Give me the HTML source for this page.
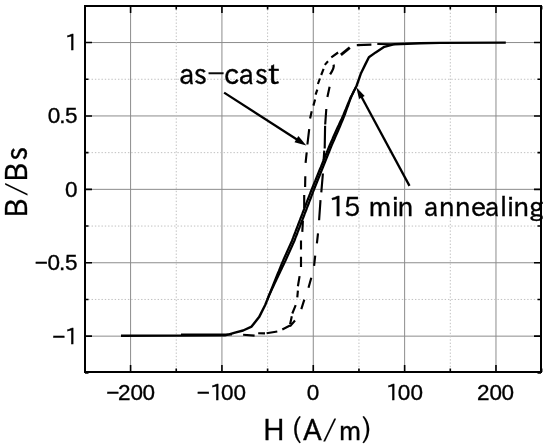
<!DOCTYPE html><html><head><meta charset="utf-8"><style>html,body{margin:0;padding:0;background:#fff;width:550px;height:448px;overflow:hidden}svg{display:block}text{fill:#000;stroke:#000;stroke-width:0.35px}</style></head><body>
<svg width="550" height="448" viewBox="0 0 550 448">
<line x1="130.58" y1="6" x2="130.58" y2="372" stroke="#8c8c8c" stroke-width="1"/><line x1="221.93" y1="6" x2="221.93" y2="372" stroke="#8c8c8c" stroke-width="1"/><line x1="313.28" y1="6" x2="313.28" y2="372" stroke="#8c8c8c" stroke-width="1"/><line x1="404.63" y1="6" x2="404.63" y2="372" stroke="#8c8c8c" stroke-width="1"/><line x1="495.98" y1="6" x2="495.98" y2="372" stroke="#8c8c8c" stroke-width="1"/><line x1="85" y1="336.15" x2="541" y2="336.15" stroke="#8c8c8c" stroke-width="1"/><line x1="85" y1="262.75" x2="541" y2="262.75" stroke="#8c8c8c" stroke-width="1"/><line x1="85" y1="189.35" x2="541" y2="189.35" stroke="#8c8c8c" stroke-width="1"/><line x1="85" y1="115.95" x2="541" y2="115.95" stroke="#8c8c8c" stroke-width="1"/><line x1="85" y1="42.55" x2="541" y2="42.55" stroke="#8c8c8c" stroke-width="1"/><line x1="176.25" y1="6" x2="176.25" y2="372" stroke="#c0c0c0" stroke-width="1" stroke-dasharray="1.4 1.9"/><line x1="267.60" y1="6" x2="267.60" y2="372" stroke="#c0c0c0" stroke-width="1" stroke-dasharray="1.4 1.9"/><line x1="358.95" y1="6" x2="358.95" y2="372" stroke="#c0c0c0" stroke-width="1" stroke-dasharray="1.4 1.9"/><line x1="450.30" y1="6" x2="450.30" y2="372" stroke="#c0c0c0" stroke-width="1" stroke-dasharray="1.4 1.9"/><line x1="85" y1="299.45" x2="541" y2="299.45" stroke="#c0c0c0" stroke-width="1" stroke-dasharray="1.4 1.9"/><line x1="85" y1="226.05" x2="541" y2="226.05" stroke="#c0c0c0" stroke-width="1" stroke-dasharray="1.4 1.9"/><line x1="85" y1="152.65" x2="541" y2="152.65" stroke="#c0c0c0" stroke-width="1" stroke-dasharray="1.4 1.9"/><line x1="85" y1="79.25" x2="541" y2="79.25" stroke="#c0c0c0" stroke-width="1" stroke-dasharray="1.4 1.9"/>
<path d="M84.90 372v-3.5M84.90 6v3.5M130.58 372v-7M130.58 6v7M176.25 372v-3.5M176.25 6v3.5M221.93 372v-7M221.93 6v7M267.60 372v-3.5M267.60 6v3.5M313.28 372v-7M313.28 6v7M358.95 372v-3.5M358.95 6v3.5M404.63 372v-7M404.63 6v7M450.30 372v-3.5M450.30 6v3.5M495.98 372v-7M495.98 6v7M541.65 372v-3.5M541.65 6v3.5M85 372.85h3.5M541 372.85h-3.5M85 336.15h7M541 336.15h-7M85 299.45h3.5M541 299.45h-3.5M85 262.75h7M541 262.75h-7M85 226.05h3.5M541 226.05h-3.5M85 189.35h7M541 189.35h-7M85 152.65h3.5M541 152.65h-3.5M85 115.95h7M541 115.95h-7M85 79.25h3.5M541 79.25h-3.5M85 42.55h7M541 42.55h-7M85 5.85h3.5M541 5.85h-3.5" stroke="#000" stroke-width="1.6" fill="none"/>
<rect x="85" y="6" width="456" height="366" fill="none" stroke="#000" stroke-width="2"/>
<path d="M121.0 335.7 L180.0 335.6 L225.0 335.3 L229.0 334.4 L235.0 332.6 L243.1 330.5 L251.6 326.6 L259.1 317.1 L265.2 305.0 L267.2 300.0" stroke="#000" stroke-width="2.4" fill="none" stroke-linejoin="round"/>
<path d="M356.5 86.0 L356.7 85.5 L361.0 73.2 L365.2 64.6 L368.9 57.3 L375.7 52.4 L384.3 46.8 L394.5 44.2 L420.0 43.3 L440.0 42.9 L505.8 42.6" stroke="#000" stroke-width="2.4" fill="none" stroke-linejoin="round"/>
<path d="M356.5 86.0 L356.0 87.0 L355.0 89.0 L353.9 91.0 L352.9 93.0 L351.9 95.0 L350.8 97.0 L350.0 99.0 L349.2 101.0 L348.3 103.0 L347.5 105.0 L346.7 107.0 L345.9 109.0 L345.0 111.0 L344.2 113.0 L343.4 115.0 L342.5 117.0 L341.6 119.0 L340.6 121.0 L339.7 123.0 L338.8 125.0 L337.8 127.0 L336.9 129.0 L336.0 131.0 L335.1 133.0 L334.2 135.0 L333.3 137.0 L332.5 139.0 L331.6 141.0 L330.7 143.0 L329.8 145.0 L329.0 147.0 L328.2 149.0 L327.4 151.0 L326.6 153.0 L325.7 155.0 L324.9 157.0 L324.1 159.0 L323.3 161.0 L322.5 163.0 L321.7 165.0 L320.9 167.0 L320.0 169.0 L319.2 171.0 L318.4 173.0 L317.6 175.0 L316.8 177.0 L316.0 179.0 L315.2 181.0 L314.3 183.0 L313.5 185.0 L312.7 187.0 L311.9 189.0 L311.1 191.0 L310.3 193.0 L309.6 195.0 L308.8 197.0 L308.0 199.0 L307.2 201.0 L306.5 203.0 L305.7 205.0 L304.9 207.0 L304.2 209.0 L303.4 211.0 L302.6 213.0 L301.9 215.0 L301.1 217.0 L300.3 219.0 L299.6 221.0 L298.8 223.0 L298.0 225.0 L297.3 227.0 L296.5 229.0 L295.7 231.0 L295.0 233.0 L294.2 235.0 L293.4 237.0 L292.7 239.0 L291.9 241.0 L291.0 243.0 L290.1 245.0 L289.2 247.0 L288.3 249.0 L287.4 251.0 L286.5 253.0 L285.6 255.0 L284.7 257.0 L283.8 259.0 L283.0 261.0 L282.1 263.0 L281.3 265.0 L280.5 267.0 L279.7 269.0 L278.9 271.0 L278.0 273.0 L277.2 275.0 L276.4 277.0 L275.6 279.0 L274.8 281.0 L274.0 283.0 L273.2 285.0 L272.4 287.0 L271.6 289.0 L270.8 291.0 L270.0 293.0 L269.2 295.0 L268.4 297.0 L267.6 299.0 L267.2 300.0" stroke="#000" stroke-width="2.2" fill="none" stroke-linejoin="round"/>
<path d="M356.5 86.0 L356.0 87.0 L355.0 89.0 L354.0 91.0 L353.1 93.0 L352.1 95.0 L351.2 97.0 L350.4 99.0 L349.7 101.0 L349.0 103.0 L348.3 105.0 L347.5 107.0 L346.8 109.0 L346.1 111.0 L345.4 113.0 L344.6 115.0 L343.8 117.0 L343.0 119.0 L342.2 121.0 L341.3 123.0 L340.5 125.0 L339.7 127.0 L338.8 129.0 L338.0 131.0 L337.1 133.0 L336.2 135.0 L335.3 137.0 L334.5 139.0 L333.6 141.0 L332.7 143.0 L331.8 145.0 L331.0 147.0 L330.2 149.0 L329.4 151.0 L328.6 153.0 L327.8 155.0 L327.0 157.0 L326.2 159.0 L325.4 161.0 L324.6 163.0 L323.8 165.0 L323.0 167.0 L322.2 169.0 L321.4 171.0 L320.6 173.0 L319.8 175.0 L319.0 177.0 L318.2 179.0 L317.4 181.0 L316.6 183.0 L315.8 185.0 L315.0 187.0 L314.2 189.0 L313.4 191.0 L312.7 193.0 L311.9 195.0 L311.2 197.0 L310.4 199.0 L309.6 201.0 L308.9 203.0 L308.1 205.0 L307.3 207.0 L306.6 209.0 L305.8 211.0 L305.0 213.0 L304.3 215.0 L303.5 217.0 L302.7 219.0 L302.0 221.0 L301.2 223.0 L300.4 225.0 L299.7 227.0 L298.9 229.0 L298.1 231.0 L297.4 233.0 L296.6 235.0 L295.8 237.0 L295.1 239.0 L294.3 241.0 L293.4 243.0 L292.5 245.0 L291.6 247.0 L290.7 249.0 L289.8 251.0 L288.9 253.0 L288.0 255.0 L287.1 257.0 L286.2 259.0 L285.3 261.0 L284.3 263.0 L283.4 265.0 L282.4 267.0 L281.5 269.0 L280.5 271.0 L279.6 273.0 L278.6 275.0 L277.7 277.0 L276.7 279.0 L275.8 281.0 L274.8 283.0 L273.9 285.0 L273.0 287.0 L272.0 289.0 L271.1 291.0 L270.2 293.0 L269.2 295.0 L268.4 297.0 L267.6 299.0 L267.2 300.0" stroke="#000" stroke-width="2.2" fill="none" stroke-linejoin="round"/>
<path d="M181 334.6 L232 334.6" stroke="#000" stroke-width="2" fill="none"/>
<path d="M356.8 45.1L371.4 44.6M377.3 44.0L394.5 44.2M338.1 52.5L331.3 57.3M328 61.3L324.8 64.9M323.6 68.9L321.2 75M319.9 78.5L317.9 84M317.3 89.6L315.6 94.7M315.1 99.5L313.4 105.6M311.7 111.2L310.1 118.5M309.2 129.1L307.4 144.5M306.7 152.3L305.6 162.9M305.3 176.3L305.1 186.9M304.2 195.1L304.2 207.9M302.9 220.8L302.3 231.9M301 240.6L301 249.6M301 256.8L301 266.9M299.6 276.1L297.9 286.2M297.9 290.6L297.3 297.3M295.7 305.2L292.3 313.5M291.8 316.3L290.1 324.2M295 320.5L290 326.4M304.3 299.6L301.3 309.1M311.3 277.8L308.5 287.8M315.2 255.7L314.1 265.8M318 233.4L316.9 243.4M320.5 200.1L319.1 220.2M322.9 173.5L321.3 192.3M324.3 150.6L323.6 160M325.1 125.7L324.7 148.4M326.3 109L325.2 124.5M329.6 86.8L327.4 96.9M290 325.5L282.3 329.5M277.3 331.5L266.6 333.3M265 333.4L258.2 333.3M254.6 335.6L243.1 334.8" stroke="#000" stroke-width="2.15" fill="none" stroke-linecap="butt"/>
<path d="M333.6 64.6 Q334.6 67.5 330.1 74.4" stroke="#000" stroke-width="2.3" fill="none"/>
<path d="M340.9 54.9 L349.8 47.6" stroke="#000" stroke-width="2.8" fill="none"/>
<line x1="224.1" y1="92.6" x2="298.1" y2="140.3" stroke="#000" stroke-width="2.3"/><path d="M306.3 145.5L294.5 142.2L298.4 136.1Z" fill="#000"/>
<line x1="409.5" y1="185.9" x2="360.9" y2="95.7" stroke="#000" stroke-width="2.3"/><path d="M356.3 87.2L364.7 96.0L359.0 99.0Z" fill="#000"/>
<text y="83.5" x="179.0 193.9" style="font-family:IPAPGothic,IPAGothic,&quot;Liberation Sans&quot;,sans-serif;font-size:28px">as</text>
<text y="81.6" x="207.2" style="font-family:IPAPGothic,IPAGothic,&quot;Liberation Sans&quot;,sans-serif;font-size:28px">−</text>
<text y="83.5" x="223.9 238.6 254.9" style="font-family:IPAPGothic,IPAGothic,&quot;Liberation Sans&quot;,sans-serif;font-size:28px">cas</text>
<g transform="translate(267.85 83.5) scale(1.2 1)"><text y="0" x="0.0" style="font-family:IPAPGothic,IPAGothic,&quot;Liberation Sans&quot;,sans-serif;font-size:28px">t</text></g>
<text y="215.8" x="329.0 343.7 360.4 368.6 391.7 397.6 413.6 423.7 438.8 454.8 471.1 484.8 500.1 506.9 513.2 529.0" style="font-family:IPAPGothic,IPAGothic,&quot;Liberation Sans&quot;,sans-serif;font-size:26.5px">15 min annealing</text>
<text y="49.9" x="64.9" style="font-family:IPAPGothic,IPAGothic,&quot;Liberation Sans&quot;,sans-serif;font-size:21.2px">1</text>
<text y="123.3" x="47.7" style="font-family:&quot;Liberation Sans&quot;,sans-serif;font-size:22.5px">0</text><text y="123.3" x="59.2" style="font-family:&quot;Liberation Sans&quot;,sans-serif;font-size:22.5px">.</text><text y="123.3" x="65.0" style="font-family:&quot;Liberation Sans&quot;,sans-serif;font-size:22.5px">5</text>
<text y="196.8" x="64.9" style="font-family:&quot;Liberation Sans&quot;,sans-serif;font-size:22.5px">0</text>
<text y="270.1" x="34.8" style="font-family:&quot;Liberation Sans&quot;,sans-serif;font-size:22.5px">−</text><text y="270.1" x="47.5" style="font-family:&quot;Liberation Sans&quot;,sans-serif;font-size:22.5px">0</text><text y="270.1" x="59.0" style="font-family:&quot;Liberation Sans&quot;,sans-serif;font-size:22.5px">.</text><text y="270.1" x="64.9" style="font-family:&quot;Liberation Sans&quot;,sans-serif;font-size:22.5px">5</text>
<text y="343.5" x="52.3" style="font-family:&quot;Liberation Sans&quot;,sans-serif;font-size:22.5px">−</text><text y="343.5" x="65.1" style="font-family:IPAPGothic,IPAGothic,&quot;Liberation Sans&quot;,sans-serif;font-size:21.2px">1</text>
<text y="400.4" x="106.3" style="font-family:&quot;Liberation Sans&quot;,sans-serif;font-size:22.5px">−</text><text y="400.4" x="118.1" style="font-family:&quot;Liberation Sans&quot;,sans-serif;font-size:22.5px">2</text><text y="400.4" x="130.6" style="font-family:&quot;Liberation Sans&quot;,sans-serif;font-size:22.5px">0</text><text y="400.4" x="142.4" style="font-family:&quot;Liberation Sans&quot;,sans-serif;font-size:22.5px">0</text>
<text y="400.4" x="196.8" style="font-family:&quot;Liberation Sans&quot;,sans-serif;font-size:22.5px">−</text><text y="400.4" x="210.0" style="font-family:IPAPGothic,IPAGothic,&quot;Liberation Sans&quot;,sans-serif;font-size:21.2px">1</text><text y="400.4" x="220.9" style="font-family:&quot;Liberation Sans&quot;,sans-serif;font-size:22.5px">0</text><text y="400.4" x="233.6" style="font-family:&quot;Liberation Sans&quot;,sans-serif;font-size:22.5px">0</text>
<text y="400.4" x="306.7" style="font-family:&quot;Liberation Sans&quot;,sans-serif;font-size:22.5px">0</text>
<text y="400.4" x="385.9" style="font-family:IPAPGothic,IPAGothic,&quot;Liberation Sans&quot;,sans-serif;font-size:21.2px">1</text><text y="400.4" x="397.7" style="font-family:&quot;Liberation Sans&quot;,sans-serif;font-size:22.5px">0</text><text y="400.4" x="410.5" style="font-family:&quot;Liberation Sans&quot;,sans-serif;font-size:22.5px">0</text>
<text y="400.4" x="477.1" style="font-family:&quot;Liberation Sans&quot;,sans-serif;font-size:22.5px">2</text><text y="400.4" x="489.6" style="font-family:&quot;Liberation Sans&quot;,sans-serif;font-size:22.5px">0</text><text y="400.4" x="501.4" style="font-family:&quot;Liberation Sans&quot;,sans-serif;font-size:22.5px">0</text>
<text y="439.5" x="263.1" style="font-family:IPAPGothic,IPAGothic,&quot;Liberation Sans&quot;,sans-serif;font-size:29px">H</text>
<text y="438.2" x="291.9" style="font-family:IPAPGothic,IPAGothic,&quot;Liberation Sans&quot;,sans-serif;font-size:29px;stroke-width:0.15px">(</text>
<text y="439.5" x="303.2" style="font-family:IPAPGothic,IPAGothic,&quot;Liberation Sans&quot;,sans-serif;font-size:29px">A</text>
<text y="436.5" x="322.7" style="font-family:&quot;WenQuanYi Zen Hei&quot;,sans-serif;font-size:26.5px;stroke-width:0.1px">/</text>
<text y="439.5" x="338.7" style="font-family:IPAPGothic,IPAGothic,&quot;Liberation Sans&quot;,sans-serif;font-size:26px">m</text>
<text y="438.2" x="361.7" style="font-family:IPAPGothic,IPAGothic,&quot;Liberation Sans&quot;,sans-serif;font-size:29px;stroke-width:0.15px">)</text>
<g transform="translate(27 215) rotate(-90)"><text y="0" x="-2.4" style="font-family:IPAPGothic,IPAGothic,&quot;Liberation Sans&quot;,sans-serif;font-size:29.5px">B</text><text y="-3.6" x="19.0" style="font-family:&quot;WenQuanYi Zen Hei&quot;,sans-serif;font-size:26px;stroke-width:0.1px">/</text><text y="0" x="33.3 54.5" style="font-family:IPAPGothic,IPAGothic,&quot;Liberation Sans&quot;,sans-serif;font-size:29.5px">Bs</text></g>
</svg></body></html>
